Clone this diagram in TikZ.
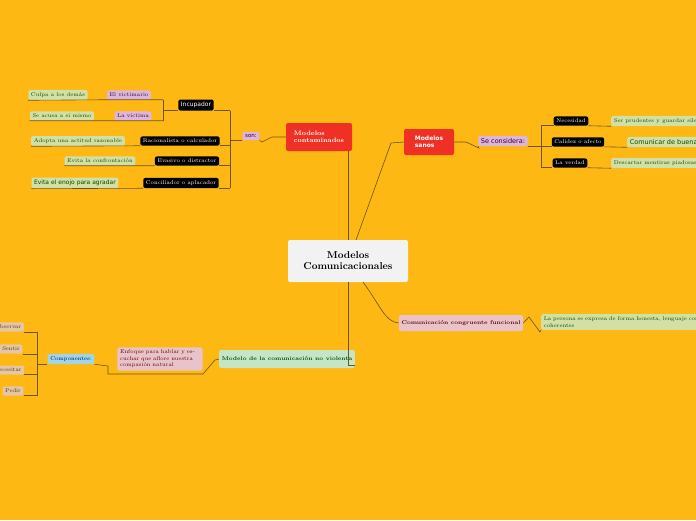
\documentclass[tikz,border=0pt]{standalone}
\usepackage{fontspec}
\setsansfont{DejaVu Sans}
\usetikzlibrary{calc}
\begin{document}
\begin{tikzpicture}[x=1pt,y=-1pt,
 box/.style={rounded corners=2pt,inner sep=2.6pt,font=\fontsize{5.5}{6.5}\selectfont,align=left},
 grn/.style={box,fill=gn,text=black!70!green},
 pur/.style={box,fill=pu,text=black!70!purple},
 blk/.style={box,fill=black,text=white},
 ln/.style={draw=ln,line width=0.6pt}]
\definecolor{bg}{HTML}{FDB813}
\definecolor{gn}{HTML}{D4DFA6}
\definecolor{pu}{HTML}{DDB5E0}
\definecolor{rd}{HTML}{EE3124}
\definecolor{pk}{HTML}{E8C4CA}
\definecolor{tl}{HTML}{C4E5C6}
\definecolor{bl}{HTML}{9FD6E6}
\definecolor{tn}{HTML}{E6C7A5}
\definecolor{ln}{HTML}{6B5520}
\fill[bg] (0,0) rectangle (696,520);
\clip (0,0) rectangle (696,520);
\coordinate (T) at (230,0);
\coordinate (S) at (541,0);
\coordinate (P) at (37,0);
% main
\node[box,fill=gray!10,minimum width=120,minimum height=42,align=center,font=\fontsize{10}{11}\selectfont\bfseries,text=black] (c) at (348,261) {Modelos\\Comunicacionales};
\node[box,fill=rd,text=white,minimum width=66,minimum height=28,font=\fontsize{6.5}{7}\selectfont\bfseries] (mc) at (319,137) {Modelos\\contaminados};
\node[box,fill=rd,text=white,minimum width=50,minimum height=26,font=\sffamily\fontsize{6}{7}\selectfont\bfseries] (ms) at (429,142) {Modelos\\sanos};
\node[box,fill=pk,text=black!60!red,minimum width=114,minimum height=16,font=\fontsize{5.5}{6}\selectfont\bfseries] (cg) at (461,323) {Comunicación congruente funcional};
\node[box,fill=tl,text=black!70!green,minimum width=122,minimum height=18,font=\fontsize{5.5}{6}\selectfont\bfseries] (nv) at (287,359) {Modelo de la comunicación no violenta};
\coordinate (V) at (348,0);
\draw[ln] (V |- mc.south) -- (V |- c.north);
\draw[ln] (V |- c.south) -- ($(V |- nv.east)+(0,6)$) -- ($(nv.east)+(0,6)$);
\draw[ln] (356,240) -- (391,143) -- (ms.west);
\draw[ln] (363,282) .. controls (380,305) and (385,322) .. (cg.west);
% contaminados branch
\node[pur,font=\sffamily\fontsize{5.5}{6}\selectfont] (son) at (251,136) {son:};
\draw[ln] (mc.west) -- (272,137) -- (262,142) -- (son.south east);
\node[blk,font=\sffamily\fontsize{6}{7}\selectfont] (inc) at (196,105) {Incupador};
\node[blk] (rac) at (180,141) {Racionalista o calculador};
\node[blk] (eva) at (187,161) {Evasivo o distractor};
\node[blk] (con) at (181,183) {Conciliador o aplacador};
\draw[ln] (son.south west) -- (T |- son.south);
\draw[ln] (T |- inc.south) -- (T |- con.south);
\foreach \n in {inc,rac,eva,con}{\draw[ln] (T |- \n.south) -- (\n.south east);}
\node[pur] (vic) at (129,95) {El victimario};
\node[pur] (vca) at (133,116) {La victima};
\node[grn] (g1) at (58,95) {Culpa a los demás};
\node[grn] (g2) at (62,116) {Se acusa a si mismo};
\node[grn] (g3) at (78,141) {Adopta una actitud razonable};
\node[grn] (g4) at (100,161) {Evita la confrontación};
\node[grn,font=\sffamily\fontsize{6}{7}\selectfont] (g5) at (75,183) {Evita el enojo para agradar};
\coordinate (I) at (163,0);
\draw[ln] (inc.south west) -- (I |- inc.south);
\draw[ln] (I |- vic.south) -- (I |- vca.south);
\draw[ln] (I |- vca.south) -- (vca.south west) -- (g2.south west);
\draw[ln] (I |- vic.south) -- (vic.south west) -- (g1.south west);
\draw[ln] (rac.south west) -- (g3.south west);
\draw[ln] (eva.south west) -- (g4.south west);
\draw[ln] (con.south west) -- (g5.south west);
% sanos branch
\node[pur,font=\sffamily\fontsize{6.5}{7}\selectfont] (sc) at (503,141) {Se considera:};
\draw[ln] (ms.east) -- (466,142) -- (479,148) -- (sc.south west);
\node[blk] (nec) at (571,121) {Necesidad};
\node[blk] (cal) at (578,142) {Calidez o afecto};
\node[blk] (ver) at (570,163) {La verdad};
\draw[ln] (sc.south east) -- (S |- sc.south);
\draw[ln] (S |- nec.south) -- (S |- ver.south);
\foreach \n in {nec,cal,ver}{\draw[ln] (S |- \n.south) -- (\n.south west);}
\node[grn,anchor=west] (s1) at (611,121) {Ser prudentes y guardar silencio};
\node[grn,anchor=west,font=\sffamily\fontsize{6.5}{7}\selectfont] (s2) at (627,142) {Comunicar de buena manera};
\node[grn,anchor=west] (s3) at (611,163) {Descartar mentiras piadosas};
\draw[ln] (nec.south east) -- (s1.south west);
\draw[ln] (cal.south east) -- (s2.south west);
\draw[ln] (ver.south east) -- (s3.south west);
% congruente
\node[grn,anchor=west,text width=200] (cp) at (541,322) {La persona se expresa de forma honesta, lenguaje corporal y verbal coherentes};
\draw[ln] (cg.east) -- (529,317) -- (540,332) -- (cp.south west);
% no violenta
\node[box,fill=pk,text=black!60!red,text width=80,font=\fontsize{5.5}{6.5}\selectfont\raggedright] (enf) at (160,359) {Enfoque para hablar y escuchar que aflore nuestra compasión natural};
\draw[ln] (nv.west) -- (215,360) -- (203,374) -- (108,374) -- (108,366);
\node[box,fill=bl,text=black!60!blue] (comp) at (71,359) {Componentes:};
\draw[ln] (comp.south east) -- (108,366);
\node[box,fill=tn,text=black!60!brown] (o1) at (8,327) {Observar};
\node[box,fill=tn,text=black!60!brown] (o2) at (11,349) {Sentir};
\node[box,fill=tn,text=black!60!brown] (o3) at (8,370) {Necesitar};
\node[box,fill=tn,text=black!60!brown] (o4) at (13,391) {Pedir};
\draw[ln] (comp.south west) -- (P |- comp.south);
\draw[ln] (P |- o1.south) -- (P |- o4.south);
\foreach \n in {o1,o2,o3,o4}{\draw[ln] (\n.south east) -- (P |- \n.south);}
\end{tikzpicture}
\end{document}
